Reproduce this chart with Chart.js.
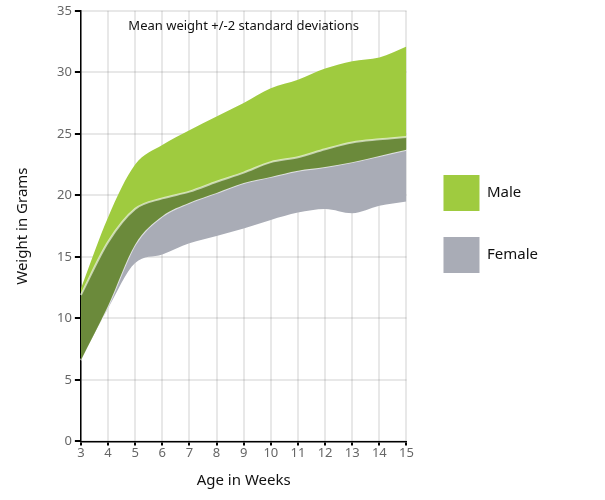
<!DOCTYPE html>
<html>
<head>
<meta charset="utf-8">
<script src="https://cdn.jsdelivr.net/npm/chart.js@4/dist/chart.umd.min.js"></script>
<style>
  html, body { margin: 0; padding: 0; background: #fff; }
  #wrap { width: 605px; height: 500px; }
</style>
</head>
<body>
<div id="wrap"><canvas id="chWeight"></canvas></div>
<script>
// data
var weeks = [3, 4, 5, 6, 7, 8, 9, 10, 11, 12, 13, 14, 15];
var maleUpper = [12.4, 18.2, 22.5, 24.1, 25.3, 26.4, 27.5, 28.7, 29.4, 30.3, 30.9, 31.2, 32.1];
var maleLower = [6.6, 11.0, 16.0, 18.3, 19.4, 20.2, 21.0, 21.5, 22.0, 22.3, 22.7, 23.2, 23.7];
var femaleUpper = [11.9, 16.2, 18.9, 19.75, 20.3, 21.1, 21.85, 22.7, 23.1, 23.75, 24.3, 24.55, 24.75];
var femaleLower = [6.6, 10.8, 14.5, 15.2, 16.1, 16.7, 17.3, 18.0, 18.6, 18.9, 18.55, 19.15, 19.5];
var chartTitle = 'Mean weight +/-2 standard deviations';

// colors
var lime = '#9fcb3f';
var grey = '#a9acb6';
var overlap = '#6b8a3b';
var edge = 'rgba(255,255,255,0.6)';

var fontName = '"Noto Sans", sans-serif';

// title sits inside the plot area
var innerTitle = {
    id: 'innerTitle',
    afterLayout: function (chart) {
        // leave a wider gap between plot and legend
        chart.legend.left += 11;
        chart.legend.right += 11;
        chart.legend.top -= 2;
        chart.legend.bottom -= 2;
    },
    afterDraw: function (chart) {
        var ctx = chart.ctx;
        var a = chart.chartArea;
        ctx.save();
        ctx.font = '13px ' + fontName;
        ctx.fillStyle = '#111';
        ctx.textAlign = 'center';
        ctx.textBaseline = 'middle';
        ctx.fillText(chartTitle, (a.left + a.right) / 2, a.top + 15);
        ctx.restore();
    }
};

function band(label, data, color, fill) {
    return {
        label: label,
        data: data,
        backgroundColor: color,
        borderColor: color,
        borderWidth: 0,
        pointRadius: 0,
        fill: fill,
        cubicInterpolationMode: 'monotone'
    };
}

var datasets = [
    // overlap of the two bands, drawn on top
    {
        label: '',
        data: femaleUpper,
        backgroundColor: overlap,
        borderColor: edge,
        borderWidth: 2,
        pointRadius: 0,
        fill: '+1',
        cubicInterpolationMode: 'monotone'
    },
    {
        label: '',
        data: maleLower,
        borderColor: edge,
        borderWidth: 2,
        pointRadius: 0,
        fill: false,
        cubicInterpolationMode: 'monotone'
    },
    band('Male', maleUpper, lime, '+1'),
    band('', maleLower, lime, false),
    band('Female', femaleUpper, grey, '+1'),
    band('', femaleLower, grey, false)
];

new Chart(document.getElementById('chWeight'), {
    type: 'line',
    data: { labels: weeks, datasets: datasets },
    plugins: [innerTitle],
    options: {
        responsive: true,
        maintainAspectRatio: false,
        animation: false,
        layout: { padding: { top: -2, right: 68, bottom: 6, left: 10 } },
        plugins: {
            tooltip: { enabled: false },
            legend: {
                position: 'right',
                fullSize: false,
                labels: {
                    boxWidth: 36,
                    boxHeight: 36,
                    padding: 26,
                    color: '#111',
                    font: { family: fontName, size: 15 },
                    filter: function (item) { return item.text !== ''; }
                }
            }
        },
        scales: {
            x: {
                z: 1,
                grid: { color: 'rgba(0,0,0,0.09)', lineWidth: 2, tickColor: '#000', tickLength: 4 },
                border: { color: '#000', width: 1.5 },
                ticks: { color: '#666', font: { family: fontName, size: 13 }, maxRotation: 0, padding: 0 },
                title: { display: true, text: 'Age in Weeks', color: '#111', font: { family: fontName, size: 15 }, padding: { top: 11 } }
            },
            y: {
                z: 1,
                min: 0,
                max: 35,
                grid: { color: 'rgba(0,0,0,0.09)', lineWidth: 2, tickColor: '#000', tickLength: 6 },
                border: { color: '#000', width: 1.5 },
                ticks: { stepSize: 5, color: '#666', font: { family: fontName, size: 13 }, padding: 3 },
                title: { display: true, text: 'Weight in Grams', color: '#111', font: { family: fontName, size: 15 }, padding: { bottom: 22 } }
            }
        }
    }
});
</script>
</body>
</html>
